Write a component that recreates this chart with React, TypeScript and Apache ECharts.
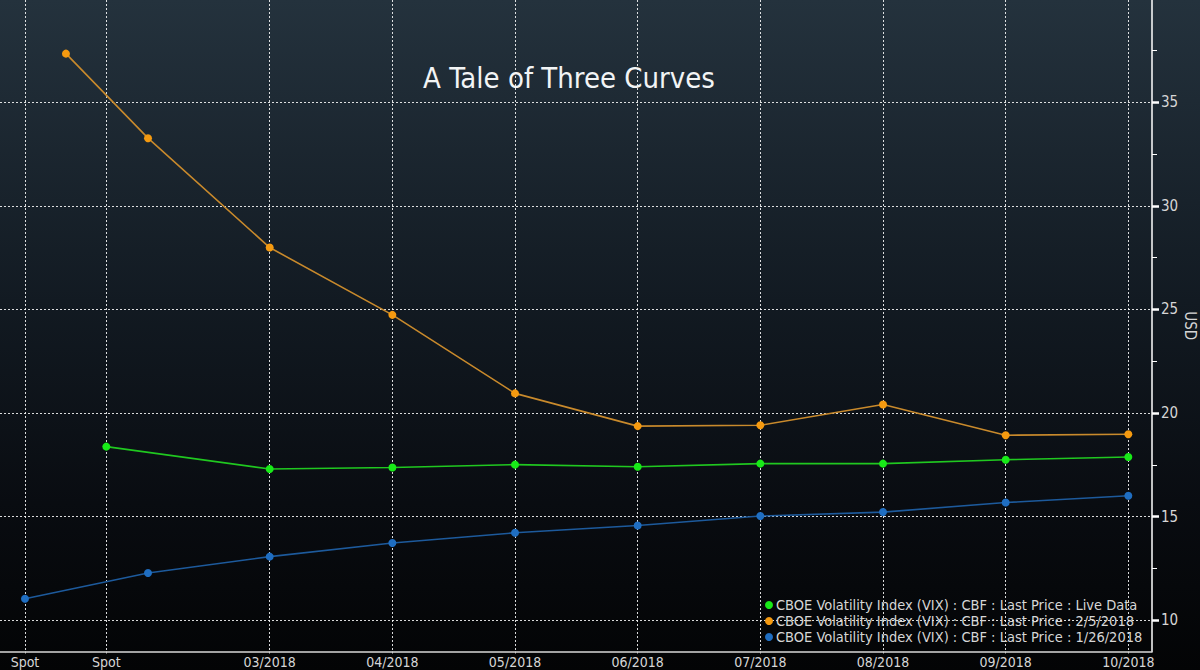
import React, { useEffect, useRef } from 'react';
import * as echarts from 'echarts';

// Contract positions on the month axis (Spot quotes sit before the March contract)
const tickPositions = [1.005, 1.668, 3, 4, 5, 6, 7, 8, 9, 10];
const tickLabels = ['Spot', 'Spot', '03/2018', '04/2018', '05/2018', '06/2018', '07/2018', '08/2018', '09/2018', '10/2018'];

const liveX = [1.668, 3, 4, 5, 6, 7, 8, 9, 10];
const liveY = [18.38, 17.3, 17.37, 17.51, 17.41, 17.56, 17.56, 17.75, 17.88];

const feb5X = [1.339, 2.008, 3, 4, 5, 6, 7, 8, 9, 10];
const feb5Y = [37.35, 33.27, 27.99, 24.74, 20.95, 19.37, 19.41, 20.41, 18.93, 18.98];

const jan26X = [1.005, 2.008, 3, 4, 5, 6, 7, 8, 9, 10];
const jan26Y = [11.04, 12.28, 13.07, 13.73, 14.22, 14.57, 15.03, 15.22, 15.68, 16.01];

const yTicks = [10, 15, 20, 25, 30, 35];
const yMinorTicks = [12.5, 17.5, 22.5, 27.5, 32.5, 37.5];

const seriesNames = [
  'CBOE Volatility Index (VIX) : CBF : Last Price : Live Data',
  'CBOE Volatility Index (VIX) : CBF : Last Price : 2/5/2018',
  'CBOE Volatility Index (VIX) : CBF : Last Price : 1/26/2018',
];

const FONT = '"DejaVu Sans Condensed", "DejaVu Sans", sans-serif';

const zip = (xs: number[], ys: number[]) => xs.map((x, i) => [x, ys[i]]);

export default function App() {
  const ref = useRef<HTMLDivElement>(null);

  useEffect(() => {
    if (!ref.current) return;
    const chart = echarts.init(ref.current, undefined, { renderer: 'svg' });

    const gridDash = { color: 'rgba(255,255,255,0.85)', width: 1, type: [2, 2] as any };

    const lineSeries = (name: string, data: number[][], point: string, line: string) => ({
      name,
      type: 'line',
      data,
      symbol: 'circle',
      symbolSize: 8,
      itemStyle: { color: point },
      lineStyle: { color: line, width: 1.6 },
      emphasis: { disabled: true },
      z: 3,
    });

    chart.setOption({
      animation: false,
      backgroundColor: {
        type: 'linear',
        x: 0, y: 0, x2: 0, y2: 1,
        colorStops: [
          { offset: 0, color: '#24323d' },
          { offset: 0.45, color: '#121a22' },
          { offset: 0.75, color: '#090c11' },
          { offset: 1, color: '#030405' },
        ],
      },
      textStyle: { fontFamily: FONT },
      graphic: [
        {
          type: 'text',
          x: 569,
          y: 78,
          style: {
            text: 'A Tale of Three Curves',
            fill: '#f2f4f5',
            font: `29px ${FONT}`,
            textAlign: 'center',
            textVerticalAlign: 'middle',
          },
          z: 10,
        },
      ],
      legend: {
        orient: 'vertical',
        left: 765,
        top: 597,
        padding: 0,
        itemGap: 0,
        itemWidth: 8,
        itemHeight: 8,
        icon: 'circle',
        textStyle: { color: '#d6d6d6', fontSize: 14.5, lineHeight: 16, fontFamily: FONT, padding: [0, 0, 0, -2] },
        data: seriesNames,
      },
      grid: { left: 0, right: 48, top: 0, bottom: 18.5, containLabel: false, outerBoundsMode: 'none' },
      xAxis: {
        type: 'value',
        min: 0.8013,
        max: 10.193,
        axisLine: { show: true, lineStyle: { color: '#d9d9d9', width: 1.5 } },
        axisTick: { show: true, length: 4, customValues: tickPositions, lineStyle: { color: '#cccccc', type: [2, 2] } },
        axisLabel: {
          customValues: tickPositions,
          color: '#d6d6d6',
          fontSize: 14,
          fontFamily: FONT,
          margin: 3,
          formatter: (v: number) => {
            const i = tickPositions.findIndex((p) => Math.abs(p - v) < 1e-6);
            return i >= 0 ? tickLabels[i] : '';
          },
        },
        splitLine: { show: true, lineStyle: gridDash },
      },
      yAxis: [
        {
          type: 'value',
          position: 'right',
          min: 8.49,
          max: 39.94,
          name: 'USD',
          nameLocation: 'middle',
          nameRotate: -90,
          nameGap: 30,
          nameMoveOverlap: false,
          nameTextStyle: { color: '#d6d6d6', fontSize: 15, fontFamily: FONT },
          axisLine: { show: true, lineStyle: { color: '#ffffff', width: 1.5 } },
          axisTick: { show: true, length: 7, customValues: yTicks, lineStyle: { color: '#ffffff', width: 2.5 } },
          axisLabel: {
            customValues: yTicks,
            color: '#d6d6d6',
            fontSize: 15,
            fontFamily: FONT,
            margin: 9,
          },
          splitLine: { show: true, lineStyle: gridDash },
        },
        {
          type: 'value',
          position: 'right',
          min: 8.49,
          max: 39.94,
          axisLine: { show: false },
          axisTick: { show: true, length: 5, customValues: yMinorTicks, lineStyle: { color: '#ffffff', width: 1 } },
          axisLabel: { show: false, customValues: yMinorTicks },
          splitLine: { show: false },
        },
      ],
      series: [
        lineSeries(seriesNames[0], zip(liveX, liveY), '#18ea18', '#20c820'),
        lineSeries(seriesNames[1], zip(feb5X, feb5Y), '#f59a10', '#c98a2c'),
        lineSeries(seriesNames[2], zip(jan26X, jan26Y), '#1f6ec2', '#1d5a9c'),
      ],
    });

    return () => chart.dispose();
  }, []);

  return (
    <div
      ref={ref}
      style={{ position: 'fixed', left: 0, top: 0, width: 1200, height: 670 }}
    />
  );
}
